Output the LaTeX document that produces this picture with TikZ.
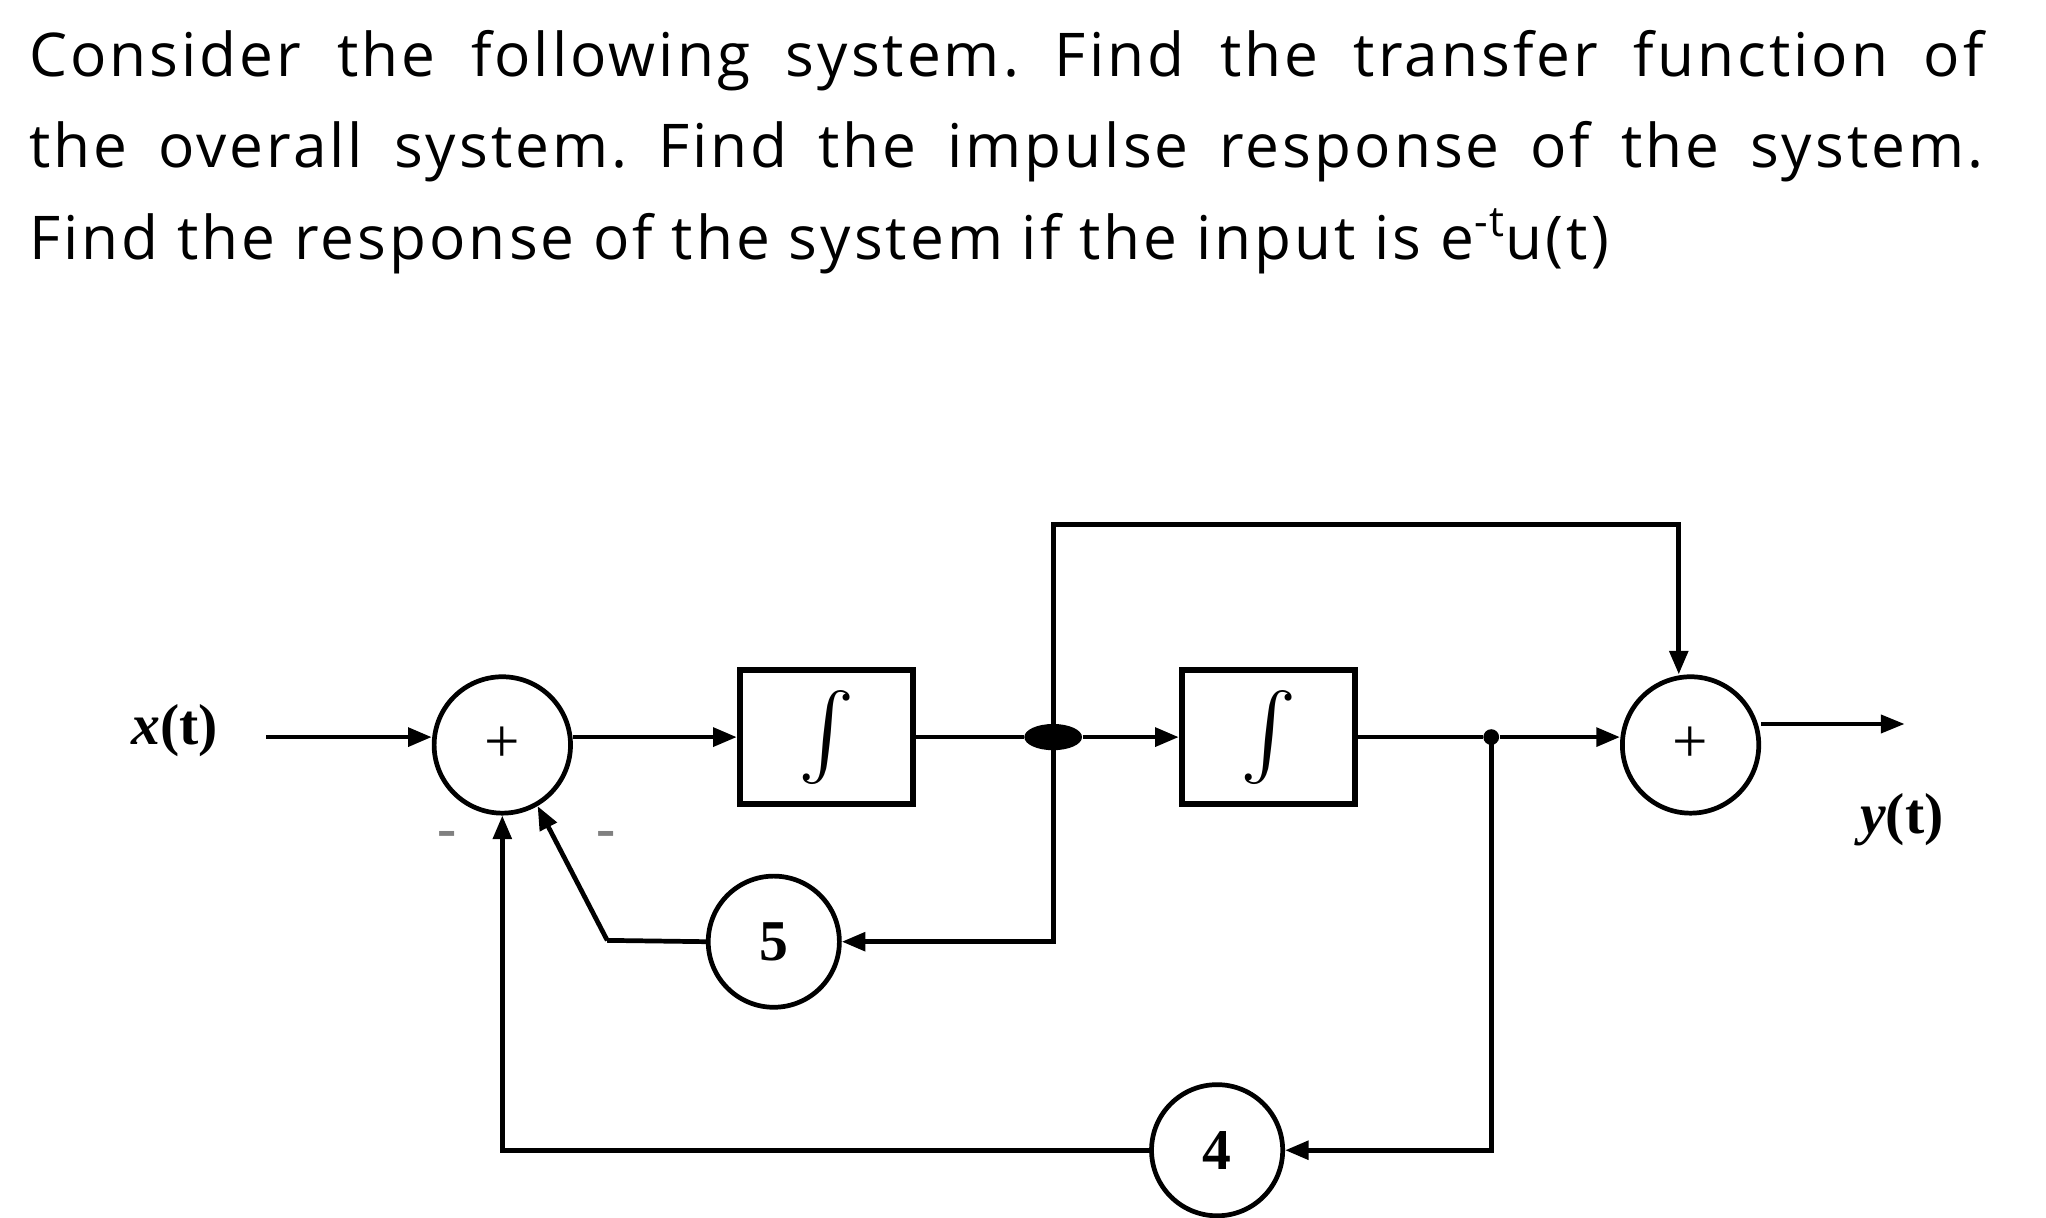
\documentclass[tikz,border=0pt]{standalone}
\usepackage{fontspec}
\usepackage{graphicx}
\setmainfont{Liberation Serif}
\newfontfamily\qfont[LetterSpace=5]{Open Sans}
\usetikzlibrary{arrows.meta,shapes.geometric}
\frenchspacing
\begin{document}
\begin{tikzpicture}[x=0.5pt,y=-0.5pt,
  wire/.style={line width=1.8pt},
  arr/.style={wire,-{Triangle[length=9pt,width=7pt]}},
  sumc/.style={circle,draw,line width=1.8pt,minimum size=52pt,inner sep=0pt,font=\fontsize{24}{24}\selectfont},
  gain/.style={circle,draw,line width=1.8pt,minimum size=50pt,inner sep=0pt,font=\bfseries\fontsize{22}{22}\selectfont},
  intbox/.style={draw,line width=2.2pt,minimum width=66pt,minimum height=51pt,inner sep=0pt},
  lbl/.style={font=\bfseries\fontsize{22}{22}\selectfont},
  qline/.style={anchor=base west,inner sep=0pt,font=\qfont\fontsize{23}{23}\selectfont}]
\useasboundingbox (0,0) rectangle (1560,928);
\node[qline] (q1) at (22,58) {\hbox to 745pt{Consider the following system. Find the transfer function of}};
\node[qline] (q2) at (22,128) {\hbox to 745pt{the overall system. Find the impulse response of the system.}};
\node[qline] (q3) at (22,198) {Find the response of the system if the input is e\textsuperscript{-t}u(t)};
\node[lbl] (x) at (133,557) {\textit{x}(t)};
\coordinate (xin) at (203,562);
\node[sumc] (s1) at (383,568) {+};
\node[intbox] (b1) at (630,562) {\resizebox{!}{26pt}{$\int$}};
\node[ellipse,fill,minimum width=22pt,minimum height=10pt,inner sep=0pt] (j) at (803,562) {};
\node[intbox] (b2) at (967,562) {\resizebox{!}{26pt}{$\int$}};
\node[circle,fill,minimum size=6pt,inner sep=0pt] (d) at (1137,562) {};
\node[sumc] (s2) at (1289,568) {+};
\coordinate (yout) at (1452,552);
\node[lbl] (y) at (1450,625) {\textit{y}(t)};
\node[gain] (g5) at (590,718) {5};
\node[gain] (g4) at (928,877) {4};
\coordinate (t1) at (803,400);
\coordinate (t2) at (1280,400);
\coordinate (k5) at (463,717);
\node[text=gray,font=\bfseries\fontsize{22}{22}\selectfont] (m1) at (341,640) {-};
\node[text=gray,font=\bfseries\fontsize{22}{22}\selectfont] (m2) at (462,640) {-};
\draw[arr] (xin) -- (s1.west |- xin);
\draw[arr] (s1.east |- b1.west) -- (b1.west);
\draw[wire] (b1.east) -- (j);
\draw[arr] (j) -- (b2.west);
\draw[wire] (b2.east) -- (d);
\draw[arr] (d) -- (s2.west |- d);
\draw[arr,line width=1.2pt] (s2.east |- yout) -- (yout);
\draw[arr] (j.center) -- (t1) -- (t2) -- (t2 |- s2.north);
\draw[arr] (j.center) |- (g5.east);
\draw[wire] (g5.west) -- (k5);
\draw[arr] (k5) -- (s1.-60);
\draw[arr] (d.center) |- (g4.east);
\draw[arr] (g4.west) -| (s1.south);
\end{tikzpicture}
\end{document}
